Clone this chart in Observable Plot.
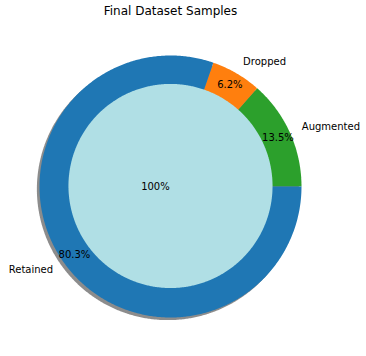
<!DOCTYPE html>
<html>
<head>
<meta charset="utf-8">
<script src="https://cdn.jsdelivr.net/npm/d3@7"></script>
<script src="https://cdn.jsdelivr.net/npm/@observablehq/plot@0.6"></script>
<style>
  html, body { margin: 0; padding: 0; background: #fff; }
  #chart svg { display: block; }
</style>
</head>
<body>
<div id="chart"></div>
<script>
// ---- data ----
const categories = ["Augmented", "Dropped", "Retained"];
const percents = [13.5, 6.2, 80.3];
const sliceColors = ["#2ca02c", "#ff7f0e", "#1f77b4"];
const pctLabels = ["13.5%", "6.2%", "80.3%"];
const innerLabel = "100%";
const title = "Final Dataset Samples";

// ---- geometry in data units (radius 1 = outer pie) ----
const W = 366, H = 356, unit = 131, cx = 170, cy = 186;
const total = d3.sum(percents);
let acc = 0;
const slices = percents.map((p, i) => {
  const a0 = acc / total * 2 * Math.PI;
  acc += p;
  const a1 = acc / total * 2 * Math.PI;
  return {name: categories[i], color: sliceColors[i], pct: pctLabels[i], a0, a1, mid: (a0 + a1) / 2};
});

function wedge(s, r, dx = 0, dy = 0) {
  const pts = [{x: dx, y: dy, k: s.name}];
  const n = Math.max(2, Math.ceil((s.a1 - s.a0) / 0.01));
  for (let j = 0; j <= n; j++) {
    const a = s.a0 + (s.a1 - s.a0) * j / n;
    pts.push({x: dx + r * Math.cos(a), y: dy + r * Math.sin(a), k: s.name});
  }
  return pts;
}
function circle(r, dx, dy, k) {
  const pts = [];
  for (let j = 0; j < 720; j++) {
    const a = j / 720 * 2 * Math.PI;
    pts.push({x: dx + r * Math.cos(a), y: dy + r * Math.sin(a), k});
  }
  return pts;
}

const wedgePts = slices.flatMap(s => wedge(s, 1));
const shadowPts = circle(1, -0.02, -0.02, "shadow");
const innerPts = circle(0.779, 0, 0.004, "inner");

const labelData = slices.map(s => ({
  x: 1.1 * Math.cos(s.mid), y: 1.1 * Math.sin(s.mid), text: s.name,
  anchor: Math.cos(s.mid) >= 0 ? "start" : "end"
}));
const pctData = slices.map(s => ({x: 0.9 * Math.cos(s.mid), y: 0.9 * Math.sin(s.mid), text: s.pct}));

const chart = Plot.plot({
  width: W, height: H,
  margin: 0,
  x: {domain: [-cx / unit, (W - cx) / unit], axis: null},
  y: {domain: [-(H - cy) / unit, cy / unit], axis: null},
  style: {fontFamily: "DejaVu Sans, sans-serif", background: "#fff"},
  marks: [
    Plot.line(shadowPts, {x: "x", y: "y", z: "k", fill: "#808080", fillOpacity: 0.9, stroke: "none", curve: "linear-closed"}),
    Plot.line(wedgePts, {x: "x", y: "y", z: "k", fill: d => slices.find(s => s.name === d.k).color, stroke: "none", curve: "linear-closed"}),
    Plot.line(innerPts, {x: "x", y: "y", z: "k", fill: "#b0dfe5", stroke: "none", curve: "linear-closed"}),
    Plot.text(labelData.filter(d => d.anchor === "start"), {x: "x", y: "y", text: "text", textAnchor: "start", fontSize: 10, fill: "#000"}),
    Plot.text(labelData.filter(d => d.anchor === "end"), {x: "x", y: "y", text: "text", textAnchor: "end", fontSize: 10, fill: "#000"}),
    Plot.text(pctData, {x: "x", y: "y", text: "text", fontSize: 10, fill: "#000"}),
    Plot.text([innerLabel], {x: [-0.115], y: [0], text: d => d, fontSize: 10, fill: "#000"}),
    Plot.text([title], {frameAnchor: "top", dx: cx - W / 2, dy: 6, text: d => d, fontSize: 12, fill: "#000"})
  ]
});
document.getElementById("chart").append(chart);
</script>
</body>
</html>
